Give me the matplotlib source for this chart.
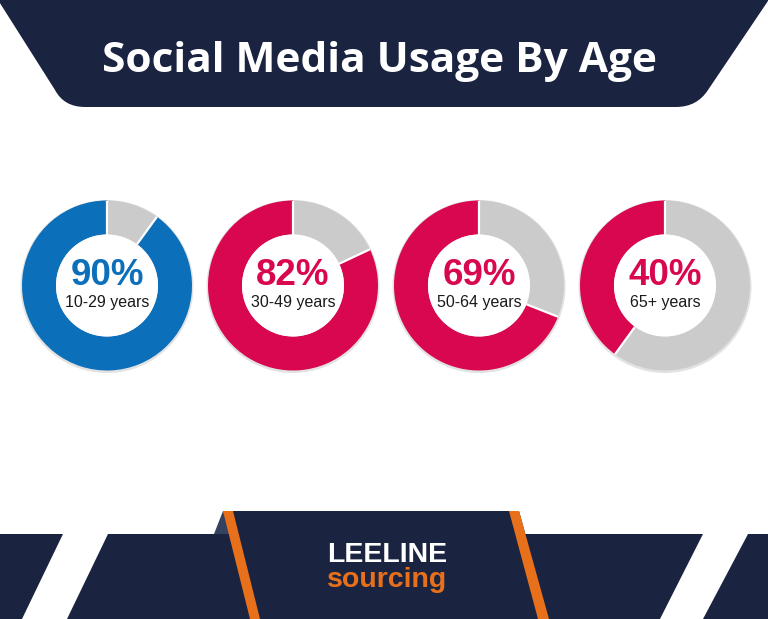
import matplotlib.pyplot as plt
import numpy as np
from matplotlib.patches import Wedge, Circle, Polygon, PathPatch
from matplotlib.path import Path

# data
title = "Social Media Usage By Age"
percents = [90, 82, 69, 40]
age_groups = ["10-29 years", "30-49 years", "50-64 years", "65+ years"]
ring_colors = ["#0b6fba", "#d8074f", "#d8074f", "#d8074f"]
rest_color = "#cbcbcb"
navy = "#1a2441"
orange = "#e8701b"

W, H = 768, 619
fig = plt.figure(figsize=(W / 100, H / 100), dpi=100)
ax = fig.add_axes([0, 0, 1, 1])
ax.set_xlim(0, W)
ax.set_ylim(0, H)
ax.axis("off")


def fy(y):
    # image rows run downward, axes run upward
    return H - y


# header band with rounded lower corners
verts = [(-2, 0), (55, 90), (64, 107), (85, 107), (676, 107), (697, 107),
         (708, 90), (770, -2), (-2, -2)]
codes = [Path.MOVETO, Path.LINETO, Path.CURVE3, Path.CURVE3, Path.LINETO,
         Path.CURVE3, Path.CURVE3, Path.LINETO, Path.CLOSEPOLY]
head = Path([(x, fy(y)) for x, y in verts], codes)
ax.add_patch(PathPatch(head, facecolor=navy, edgecolor="none"))
ax.text(379, fy(72), title, color="white", fontsize=30.5, fontweight="bold",
        family=["Open Sans", "DejaVu Sans"], ha="center", va="baseline")

# donuts
centers = [107, 293, 479, 665]
cy = fy(285.5)
R = 85
ring = 34
for cx, p, lab, col in zip(centers, percents, age_groups, ring_colors):
    ax.add_patch(Circle((cx, cy - 1), R + 1.5, facecolor="#e2e2e2", edgecolor="none"))
    ang = 90 + 3.6 * p
    ax.add_patch(Wedge((cx, cy), R, 90, ang, width=ring, facecolor=col, edgecolor="none"))
    ax.add_patch(Wedge((cx, cy), R, ang, 450, width=ring, facecolor=rest_color, edgecolor="none"))
    ax.add_patch(Circle((cx, cy), R - ring, facecolor="white", edgecolor="none"))
    for a in (90, ang):
        t = np.radians(a)
        ax.plot([cx + (R - ring) * np.cos(t), cx + R * np.cos(t)],
                [cy + (R - ring) * np.sin(t), cy + R * np.sin(t)],
                color="white", lw=1.6, solid_capstyle="butt")
    ax.text(cx, fy(285), f"{p}%", color=col, fontsize=26.5, fontweight="bold",
            family="Liberation Sans", ha="center", va="baseline")
    ax.text(cx, fy(307), lab, color="#1a1a1a", fontsize=11.5,
            family="Liberation Sans", ha="center", va="baseline")

# footer
ax.add_patch(Polygon([(0, fy(534)), (W, fy(534)), (W, 0), (0, 0)],
                     facecolor=navy, edgecolor="none"))
ax.add_patch(Polygon([(223, fy(511)), (519, fy(511)), (549, 0), (250, 0)],
                     facecolor=navy, edgecolor="none"))
ax.add_patch(Polygon([(223, fy(511)), (214, fy(534)), (231, fy(534))],
                     facecolor="#34415f", edgecolor="none"))
ax.add_patch(Polygon([(223, fy(511)), (233, fy(511)), (260, 0), (250, 0)],
                     facecolor=orange, edgecolor="none"))
ax.add_patch(Polygon([(509, fy(511)), (519, fy(511)), (549, 0), (538, 0)],
                     facecolor=orange, edgecolor="none"))
ax.add_patch(Polygon([(63, fy(534)), (108, fy(534)), (67, 0), (22, 0)],
                     facecolor="white", edgecolor="none"))
ax.add_patch(Polygon([(703, fy(534)), (748, fy(534)), (703, 0), (660, 0)],
                     facecolor="white", edgecolor="none"))

ax.text(387, fy(562), "LEELINE", color="white", fontsize=20.5, fontweight="bold",
        family="Liberation Sans", ha="center", va="baseline")
ax.text(387, fy(587), "sourcing", color=orange, fontsize=20.5, fontweight="bold",
        family="Liberation Sans", ha="center", va="baseline")

fig.savefig("out.png", dpi=100, facecolor="white")
